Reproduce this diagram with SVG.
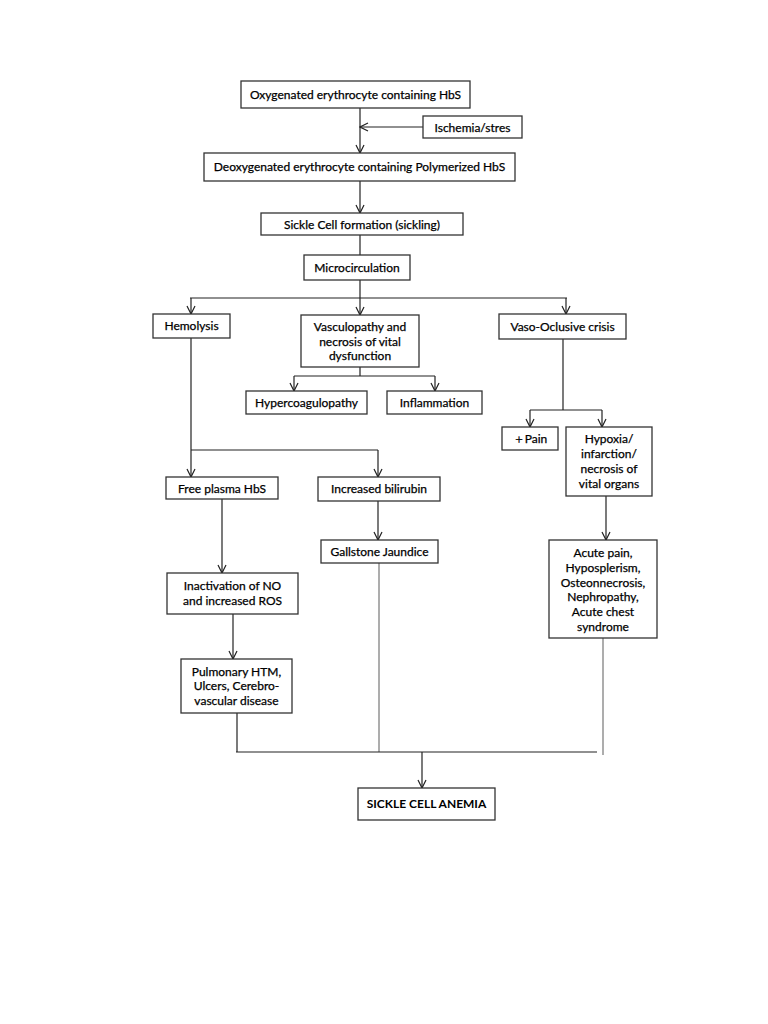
<svg xmlns="http://www.w3.org/2000/svg" width="768" height="1024" viewBox="0 0 768 1024">
<defs>
<style>
.box{fill:#fff;stroke:#333;stroke-width:1.3}
.t{font-family:Lato,"Open Sans","Liberation Sans",sans-serif;font-size:12px;fill:#000;stroke:#000;stroke-width:0.25;text-anchor:middle}
.b{font-weight:bold;stroke-width:0}
.c{fill:none;stroke:#222;stroke-width:1.2}
.g{fill:none;stroke:#999;stroke-width:1.6}
</style>
<marker id="ah" viewBox="0 0 10 10" refX="9" refY="5" markerWidth="10" markerHeight="10" markerUnits="userSpaceOnUse" orient="auto">
<polyline points="1,1 9,5 1,9" fill="none" stroke="#222" stroke-width="1.2"/>
</marker>
</defs>
<rect width="768" height="1024" fill="#fff"/>
<g id="connectors">
<line class="c" x1="360" y1="108" x2="360" y2="153" marker-end="url(#ah)"/>
<line class="c" x1="423" y1="127" x2="360" y2="127" marker-end="url(#ah)"/>
<line class="c" x1="360" y1="181" x2="360" y2="213" marker-end="url(#ah)"/>
<line class="c" x1="360" y1="235" x2="360" y2="255"/>
<line class="c" x1="360" y1="280" x2="360" y2="298"/>
<line class="c" x1="190" y1="298" x2="567" y2="298"/>
<line class="c" x1="191" y1="298" x2="191" y2="314" marker-end="url(#ah)"/>
<line class="c" x1="360" y1="298" x2="360" y2="315" marker-end="url(#ah)"/>
<line class="c" x1="566" y1="298" x2="566" y2="314" marker-end="url(#ah)"/>
<line class="c" x1="360" y1="367" x2="360" y2="376"/>
<line class="c" x1="294" y1="376" x2="435" y2="376"/>
<line class="c" x1="294" y1="376" x2="294" y2="391" marker-end="url(#ah)"/>
<line class="c" x1="435" y1="376" x2="435" y2="391" marker-end="url(#ah)"/>
<line class="c" x1="563" y1="339" x2="563" y2="410"/>
<line class="c" x1="530" y1="410" x2="602" y2="410"/>
<line class="c" x1="530" y1="410" x2="530" y2="427" marker-end="url(#ah)"/>
<line class="c" x1="602" y1="410" x2="602" y2="427" marker-end="url(#ah)"/>
<line class="c" x1="191" y1="338" x2="191" y2="477" marker-end="url(#ah)"/>
<line class="c" x1="191" y1="450" x2="378" y2="450"/>
<line class="c" x1="378" y1="450" x2="378" y2="477" marker-end="url(#ah)"/>
<line class="c" x1="222" y1="499" x2="222" y2="573" marker-end="url(#ah)"/>
<line class="c" x1="378" y1="501" x2="378" y2="540" marker-end="url(#ah)"/>
<line class="c" x1="233" y1="614" x2="233" y2="659" marker-end="url(#ah)"/>
<line class="c" x1="606" y1="496" x2="606" y2="540" marker-end="url(#ah)"/>
<line class="c" x1="237" y1="713" x2="237" y2="752"/>
<line class="g" x1="379" y1="563" x2="379" y2="752"/>
<line class="g" x1="603" y1="638" x2="603" y2="755"/>
<line class="c" x1="236" y1="752" x2="597" y2="752"/>
<line class="c" x1="422" y1="752" x2="422" y2="788" marker-end="url(#ah)"/>
</g>
<g id="n1"><rect class="box" x="241" y="81" width="229" height="27"/><text class="t" x="355.5" y="99">Oxygenated erythrocyte containing HbS</text></g>
<g id="n2"><rect class="box" x="423" y="116" width="99" height="22"/><text class="t" x="472.5" y="131.5">Ischemia/stres</text></g>
<g id="n3"><rect class="box" x="204" y="153" width="311" height="28"/><text class="t" x="359.5" y="171">Deoxygenated erythrocyte containing Polymerized HbS</text></g>
<g id="n4"><rect class="box" x="261" y="213" width="202" height="22"/><text class="t" x="362" y="228.5">Sickle Cell formation (sickling)</text></g>
<g id="n5"><rect class="box" x="304" y="255" width="106" height="25"/><text class="t" x="357" y="271.5">Microcirculation</text></g>
<g id="n6"><rect class="box" x="153" y="314" width="77" height="24"/><text class="t" x="191.5" y="330">Hemolysis</text></g>
<g id="n7"><rect class="box" x="301" y="315" width="118" height="52"/><text class="t" x="360" y="331">Vasculopathy and</text><text class="t" x="360" y="345.5">necrosis of vital</text><text class="t" x="360" y="360">dysfunction</text></g>
<g id="n8"><rect class="box" x="499" y="314" width="127" height="25"/><text class="t" x="562.5" y="330.5">Vaso-Oclusive crisis</text></g>
<g id="n9"><rect class="box" x="246" y="391" width="121" height="23"/><text class="t" x="306.5" y="407">Hypercoagulopathy</text></g>
<g id="n10"><rect class="box" x="387" y="391" width="95" height="23"/><text class="t" x="434.5" y="407">Inflammation</text></g>
<g id="n11"><rect class="box" x="502" y="427" width="56" height="23"/><text class="t" x="530" y="443">＋Pain</text></g>
<g id="n12"><rect class="box" x="566" y="427" width="86" height="69"/><text class="t" x="609" y="443">Hypoxia/</text><text class="t" x="609" y="458">infarction/</text><text class="t" x="609" y="473">necrosis of</text><text class="t" x="609" y="488">vital organs</text></g>
<g id="n13"><rect class="box" x="166" y="477" width="112" height="22"/><text class="t" x="222" y="492.5">Free plasma HbS</text></g>
<g id="n14"><rect class="box" x="318" y="477" width="122" height="24"/><text class="t" x="379" y="493">Increased bilirubin</text></g>
<g id="n15"><rect class="box" x="321" y="540" width="117" height="23"/><text class="t" x="379.5" y="556">Gallstone Jaundice</text></g>
<g id="n16"><rect class="box" x="167" y="573" width="131" height="41"/><text class="t" x="232.5" y="590">Inactivation of NO</text><text class="t" x="232.5" y="605">and increased ROS</text></g>
<g id="n17"><rect class="box" x="181" y="659" width="111" height="54"/><text class="t" x="236.5" y="676">Pulmonary HTM,</text><text class="t" x="236.5" y="690">Ulcers, Cerebro-</text><text class="t" x="236.5" y="705">vascular disease</text></g>
<g id="n18"><rect class="box" x="549" y="540" width="108" height="98"/><text class="t" x="603" y="557">Acute pain,</text><text class="t" x="603" y="572">Hyposplerism,</text><text class="t" x="603" y="586.5">Osteonnecrosis,</text><text class="t" x="603" y="601">Nephropathy,</text><text class="t" x="603" y="616">Acute chest</text><text class="t" x="603" y="630.5">syndrome</text></g>
<g id="n19"><rect class="box" x="358" y="788" width="137" height="32"/><text class="t b" x="426.5" y="808">SICKLE CELL ANEMIA</text></g>
</svg>
